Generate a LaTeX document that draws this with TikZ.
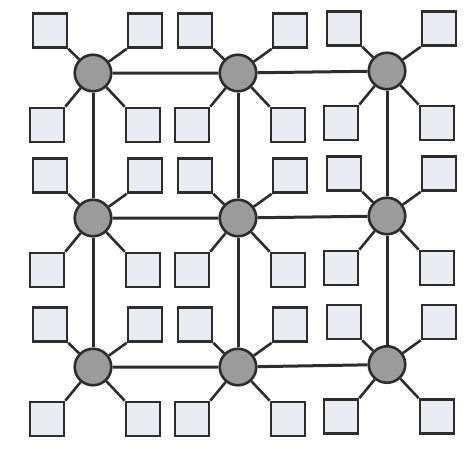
\documentclass[tikz,border=0pt]{standalone}
\definecolor{edgec}{RGB}{45,45,45}
\definecolor{hubc}{RGB}{155,155,155}
\definecolor{termc}{RGB}{233,236,240}
\begin{document}
\begin{tikzpicture}[x=1pt,y=-1pt,
  hub/.style={circle,draw=edgec,fill=hubc,line width=2.6pt,minimum size=36.5pt,inner sep=0pt},
  term/.style={rectangle,draw=edgec,fill=termc,line width=2.6pt,minimum size=34pt,inner sep=0pt},
  link/.style={draw=edgec,line width=2.6pt},
  trunk/.style={draw=edgec,line width=3pt}]
\fill[white] (0,0) rectangle (474,455);
\useasboundingbox (0,0) rectangle (474,455);
\foreach \n/\x/\y in {a/93/73,b/238/73,c/387/71,d/93/218,e/238/218,f/387/216,g/93/367,h/238/367,i/387/364.5} {
  \node[term] (\n1) at (\x-43,\y-42.5) {};
  \node[term] (\n2) at (\x+52,\y-42.5) {};
  \node[term] (\n3) at (\x-46,\y+52) {};
  \node[term] (\n4) at (\x+50,\y+52) {};
  \node[hub] (\n) at (\x,\y) {};
  \draw[link] (\n) -- (\n1.south east);
  \draw[link] (\n) -- (\n2.south west);
  \draw[link] (\n) -- (\n3.north east);
  \draw[link] (\n) -- (\n4.north west);
}
\draw[trunk] (a) -- (b) -- (c);
\draw[trunk] (d) -- (e) -- (f);
\draw[trunk] (g) -- (h) -- (i);
\draw[trunk] (a) -- (d) -- (g);
\draw[trunk] (b) -- (e) -- (h);
\draw[trunk] (c) -- (f) -- (i);
\end{tikzpicture}
\end{document}
